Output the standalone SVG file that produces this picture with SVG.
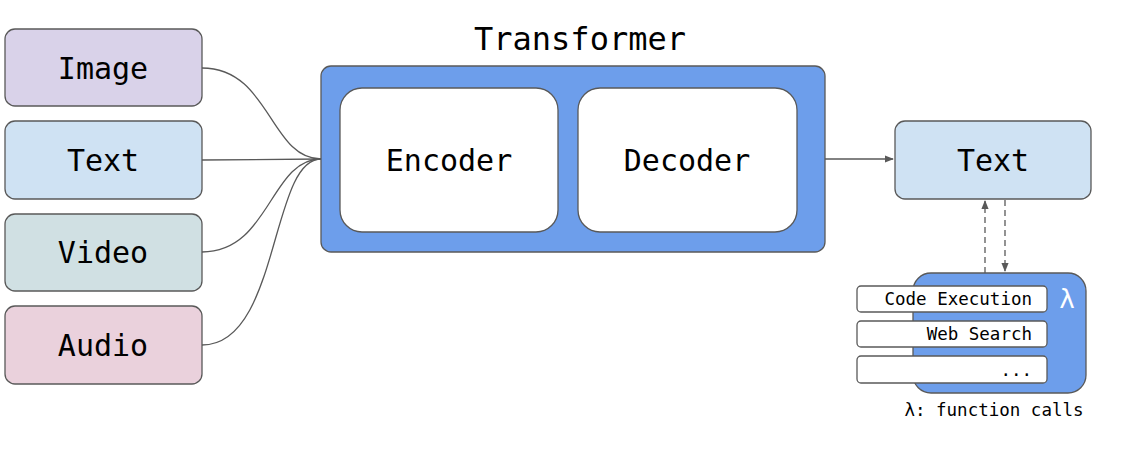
<svg xmlns="http://www.w3.org/2000/svg" width="1127" height="471" viewBox="0 0 1127 471">
<style>
text{font-family:"DejaVu Sans Mono","Liberation Mono",monospace;fill:#000}
.big{font-size:30px;text-anchor:middle;dominant-baseline:central}
.sm{font-size:17.5px;text-anchor:end;dominant-baseline:central}
.n{stroke:#595959;stroke-width:1.3}
.c{fill:none;stroke:#595959;stroke-width:1.3}
</style>
<defs><marker id="a" viewBox="0 0 10 10" refX="9" refY="5" markerWidth="7" markerHeight="7" orient="auto"><path d="M0,1 L10,5 L0,9z" fill="#595959"/></marker></defs>
<rect width="1127" height="471" fill="#fff"/>
<g id="connectors">
<path class="c" d="M202,68 C270,68 270,159 321,159"/>
<path class="c" d="M202,160 L321,159"/>
<path class="c" d="M202,252 C270,252 270,159 321,159"/>
<path class="c" d="M202,345 C280,345 270,159 321,159"/>
<path class="c" d="M825,159 L893,159" marker-end="url(#a)"/>
<path class="c" d="M985,273 L985,201" stroke-dasharray="6,4" marker-end="url(#a)"/>
<path class="c" d="M1005,200 L1005,271" stroke-dasharray="6,4" marker-end="url(#a)"/>
</g>
<g id="image"><rect class="n" x="5" y="29" width="197" height="77" rx="10" fill="#d9d2e9"/><text class="big" x="103" y="68">Image</text></g>
<g id="text-in"><rect class="n" x="5" y="121" width="197" height="78" rx="10" fill="#cfe2f3"/><text class="big" x="103" y="160">Text</text></g>
<g id="video"><rect class="n" x="5" y="214" width="197" height="77" rx="10" fill="#d0e0e3"/><text class="big" x="103" y="252">Video</text></g>
<g id="audio"><rect class="n" x="5" y="306" width="197" height="78" rx="10" fill="#ead1dc"/><text class="big" x="103" y="345">Audio</text></g>
<g id="transformer"><text class="big" x="580" y="39" style="font-size:32px">Transformer</text><rect class="n" x="321" y="66" width="504" height="186" rx="10" fill="#6d9eeb"/></g>
<g id="encoder"><rect class="n" x="340" y="88" width="218" height="144" rx="22" fill="#fff"/><text class="big" x="449" y="160">Encoder</text></g>
<g id="decoder"><rect class="n" x="578" y="88" width="219" height="144" rx="22" fill="#fff"/><text class="big" x="687" y="160">Decoder</text></g>
<g id="text-out"><rect class="n" x="895" y="121" width="196" height="78" rx="10" fill="#cfe2f3"/><text class="big" x="993" y="160">Text</text></g>
<g id="functions">
<rect class="n" x="913" y="273" width="173" height="120" rx="18" fill="#6d9eeb"/>
<text x="1067" y="299" style="font-size:26px;fill:#fff;text-anchor:middle;dominant-baseline:central">λ</text>
<rect class="n" x="857" y="286" width="190" height="26" rx="4" fill="#fff"/><text class="sm" x="1032" y="299">Code Execution</text>
<rect class="n" x="857" y="321" width="190" height="26" rx="4" fill="#fff"/><text class="sm" x="1032" y="334">Web Search</text>
<rect class="n" x="857" y="356" width="190" height="27" rx="4" fill="#fff"/><text class="sm" x="1032" y="370">...</text>
<text x="994" y="410" style="font-size:17.5px;text-anchor:middle;dominant-baseline:central">λ: function calls</text>
</g>
</svg>
